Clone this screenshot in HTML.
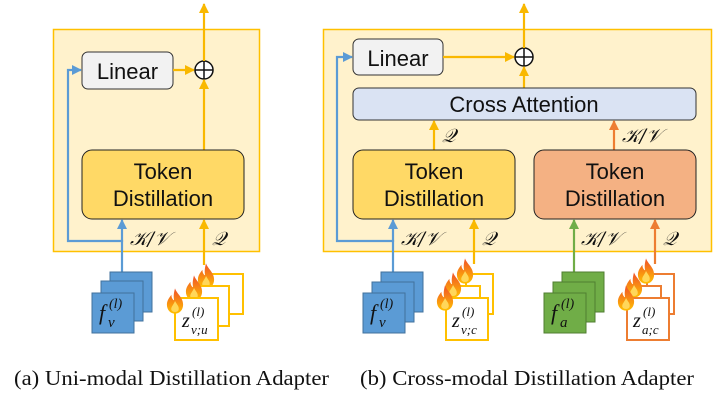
<!DOCTYPE html>
<html><head><meta charset="utf-8"><style>
body{margin:0;background:#fff;}
svg{display:block}
.s{font-family:"Liberation Sans",sans-serif;fill:#111;}
.m{font-family:"DejaVu Serif","Liberation Serif",serif;font-style:italic;fill:#111;}
.v{font-family:"Liberation Serif",serif;font-style:italic;fill:#111;}
</style></head><body>
<svg width="722" height="420" viewBox="0 0 722 420" xmlns="http://www.w3.org/2000/svg">
<defs>
<marker id="ay" markerWidth="10" markerHeight="10" refX="9" refY="5" orient="auto" markerUnits="userSpaceOnUse"><path d="M0,0 L10,5 L0,10 Z" fill="#f9b800"/></marker>
<marker id="ab" markerWidth="10" markerHeight="10" refX="9" refY="5" orient="auto" markerUnits="userSpaceOnUse"><path d="M0,0 L10,5 L0,10 Z" fill="#5b9bd5"/></marker>
<marker id="ao" markerWidth="10" markerHeight="10" refX="9" refY="5" orient="auto" markerUnits="userSpaceOnUse"><path d="M0,0 L10,5 L0,10 Z" fill="#ed7d31"/></marker>
<marker id="ag" markerWidth="10" markerHeight="10" refX="9" refY="5" orient="auto" markerUnits="userSpaceOnUse"><path d="M0,0 L10,5 L0,10 Z" fill="#70ad47"/></marker>
<linearGradient id="fl" x1="0" y1="0" x2="0" y2="1"><stop offset="0" stop-color="#f0502a"/><stop offset="1" stop-color="#ffc000"/></linearGradient>
<symbol id="flame" viewBox="0 0 20 28"><path d="M10,0 C12,6 19,10 19,18 C19,24 15,28 10,28 C5,28 1,24 1,18 C1,13 4,10 6,7 C6,11 8,13 9,13 C8,8 9,4 10,0 Z" fill="url(#fl)"/><path d="M10,14 C12,18 15,20 14,24 C13,27 7,27 6,24 C5,21 8,19 10,14Z" fill="#ffd75a"/></symbol>
</defs>

<!-- LEFT PANEL -->
<rect x="53.5" y="29.5" width="206" height="222" fill="#fff2cc" stroke="#ffc000" stroke-width="1.5"/>
<rect x="82" y="52" width="91" height="37" rx="6" fill="#f2f2f2" stroke="#333" stroke-width="1"/>
<text x="127.5" y="79" class="s" font-size="22" text-anchor="middle">Linear</text>
<line x1="173" y1="70" x2="194" y2="70" stroke="#f9b800" stroke-width="2.2" marker-end="url(#ay)"/>
<circle cx="204" cy="70" r="9" fill="#fff" stroke="#111" stroke-width="1.5"/>
<line x1="195" y1="70" x2="213" y2="70" stroke="#111" stroke-width="1.5"/><line x1="204" y1="61" x2="204" y2="79" stroke="#111" stroke-width="1.5"/>
<line x1="204" y1="61" x2="204" y2="4" stroke="#f9b800" stroke-width="2.2" marker-end="url(#ay)"/>
<line x1="204" y1="150" x2="204" y2="80" stroke="#f9b800" stroke-width="2.2" marker-end="url(#ay)"/>
<rect x="82" y="150" width="162" height="69" rx="10" fill="#ffd966" stroke="#222" stroke-width="1"/>
<text x="163" y="179" class="s" font-size="22" text-anchor="middle">Token</text>
<text x="163" y="206" class="s" font-size="22" text-anchor="middle">Distillation</text>
<polyline points="122,272 122,241 68,241 68,70 81,70" fill="none" stroke="#5b9bd5" stroke-width="2.2" marker-end="url(#ab)"/>
<line x1="122" y1="242" x2="122" y2="220" stroke="#5b9bd5" stroke-width="2.2" marker-end="url(#ab)"/>
<line x1="204" y1="265" x2="204" y2="220" stroke="#f9b800" stroke-width="2.2" marker-end="url(#ay)"/>
<text x="130" y="245" class="m" font-size="19">𝒦/𝒱</text>
<text x="212" y="245" class="m" font-size="19">𝒬</text>
<!-- blue stack -->
<rect x="110" y="272" width="42" height="40" fill="#5b9bd5" stroke="#41719c"/>
<rect x="101" y="281" width="42" height="40" fill="#5b9bd5" stroke="#41719c"/>
<rect x="92" y="293" width="42" height="40" fill="#5b9bd5" stroke="#41719c"/>
<text x="99" y="320" class="v" font-size="22">f</text>
<text x="109" y="308" class="v" font-size="14">(l)</text>
<text x="108" y="327" class="v" font-size="15">v</text>
<!-- z stack -->
<rect x="210" y="274" width="33" height="40" fill="#fff" stroke="#ffc000" stroke-width="2"/>
<use href="#flame" x="197" y="263" width="18" height="26"/>
<rect x="198" y="286" width="31" height="40" fill="#fff" stroke="#ffc000" stroke-width="2"/>
<use href="#flame" x="185" y="275" width="18" height="26"/>
<rect x="175" y="298" width="43" height="42" fill="#fff" stroke="#ffc000" stroke-width="2"/>
<use href="#flame" x="166" y="288" width="18" height="26"/>
<text x="182" y="327" class="v" font-size="20">z</text>
<text x="192" y="316" class="v" font-size="13">(l)</text>
<text x="191" y="334" class="v" font-size="13">v;u</text>

<!-- RIGHT PANEL -->
<rect x="323.5" y="29.5" width="388" height="222" fill="#fff2cc" stroke="#ffc000" stroke-width="1.5"/>
<rect x="353" y="39" width="90" height="36" rx="6" fill="#f2f2f2" stroke="#333"/>
<text x="398" y="66" class="s" font-size="22" text-anchor="middle">Linear</text>
<line x1="443" y1="57" x2="514" y2="57" stroke="#f9b800" stroke-width="2.2" marker-end="url(#ay)"/>
<circle cx="524" cy="57" r="9" fill="#fff" stroke="#111" stroke-width="1.5"/>
<line x1="515" y1="57" x2="533" y2="57" stroke="#111" stroke-width="1.5"/><line x1="524" y1="48" x2="524" y2="66" stroke="#111" stroke-width="1.5"/>
<line x1="524" y1="48" x2="524" y2="4" stroke="#f9b800" stroke-width="2.2" marker-end="url(#ay)"/>
<line x1="524" y1="88" x2="524" y2="67" stroke="#f9b800" stroke-width="2.2" marker-end="url(#ay)"/>
<rect x="353" y="88" width="343" height="32" rx="6" fill="#dae3f3" stroke="#333"/>
<text x="524" y="112" class="s" font-size="22" text-anchor="middle">Cross Attention</text>
<line x1="434" y1="150" x2="434" y2="121" stroke="#f9b800" stroke-width="2.2" marker-end="url(#ay)"/>
<text x="442" y="142" class="m" font-size="19">𝒬</text>
<line x1="614" y1="150" x2="614" y2="121" stroke="#ed7d31" stroke-width="2.2" marker-end="url(#ao)"/>
<text x="622" y="142" class="m" font-size="19">𝒦/𝒱</text>
<rect x="353" y="150" width="162" height="69" rx="10" fill="#ffd966" stroke="#222"/>
<text x="434" y="179" class="s" font-size="22" text-anchor="middle">Token</text>
<text x="434" y="206" class="s" font-size="22" text-anchor="middle">Distillation</text>
<rect x="534" y="150" width="162" height="69" rx="10" fill="#f4b183" stroke="#222"/>
<text x="615" y="179" class="s" font-size="22" text-anchor="middle">Token</text>
<text x="615" y="206" class="s" font-size="22" text-anchor="middle">Distillation</text>
<polyline points="393,272 393,241 337,241 337,57 352,57" fill="none" stroke="#5b9bd5" stroke-width="2.2" marker-end="url(#ab)"/>
<line x1="393" y1="242" x2="393" y2="220" stroke="#5b9bd5" stroke-width="2.2" marker-end="url(#ab)"/>
<text x="401" y="245" class="m" font-size="19">𝒦/𝒱</text>
<line x1="474" y1="264" x2="474" y2="220" stroke="#f9b800" stroke-width="2.2" marker-end="url(#ay)"/>
<text x="482" y="245" class="m" font-size="19">𝒬</text>
<line x1="574" y1="272" x2="574" y2="220" stroke="#70ad47" stroke-width="2.2" marker-end="url(#ag)"/>
<text x="581" y="245" class="m" font-size="19">𝒦/𝒱</text>
<line x1="655" y1="264" x2="655" y2="220" stroke="#ed7d31" stroke-width="2.2" marker-end="url(#ao)"/>
<text x="663" y="245" class="m" font-size="19">𝒬</text>
<!-- blue stack -->
<rect x="381" y="272" width="42" height="40" fill="#5b9bd5" stroke="#41719c"/>
<rect x="372" y="282" width="42" height="40" fill="#5b9bd5" stroke="#41719c"/>
<rect x="363" y="293" width="42" height="40" fill="#5b9bd5" stroke="#41719c"/>
<text x="370" y="320" class="v" font-size="22">f</text>
<text x="380" y="308" class="v" font-size="14">(l)</text>
<text x="379" y="327" class="v" font-size="15">v</text>
<!-- z v;c -->
<rect x="466" y="274" width="27" height="40" fill="#fff" stroke="#ffc000" stroke-width="2"/>
<use href="#flame" x="456" y="258" width="18" height="26"/>
<rect x="453" y="286" width="27" height="40" fill="#fff" stroke="#ffc000" stroke-width="2"/>
<use href="#flame" x="444" y="272" width="18" height="26"/>
<rect x="446" y="298" width="42" height="42" fill="#fff" stroke="#ffc000" stroke-width="2"/>
<use href="#flame" x="436" y="285" width="18" height="26"/>
<text x="452" y="327" class="v" font-size="20">z</text>
<text x="462" y="316" class="v" font-size="13">(l)</text>
<text x="461" y="334" class="v" font-size="13">v;c</text>
<!-- green stack -->
<rect x="562" y="272" width="42" height="40" fill="#70ad47" stroke="#507e32"/>
<rect x="553" y="282" width="42" height="40" fill="#70ad47" stroke="#507e32"/>
<rect x="544" y="293" width="42" height="40" fill="#70ad47" stroke="#507e32"/>
<text x="551" y="320" class="v" font-size="22">f</text>
<text x="561" y="308" class="v" font-size="14">(l)</text>
<text x="560" y="327" class="v" font-size="15">a</text>
<!-- z a;c -->
<rect x="647" y="274" width="27" height="40" fill="#fff" stroke="#ed7d31" stroke-width="2"/>
<use href="#flame" x="637" y="258" width="18" height="26"/>
<rect x="634" y="286" width="27" height="40" fill="#fff" stroke="#ed7d31" stroke-width="2"/>
<use href="#flame" x="625" y="272" width="18" height="26"/>
<rect x="627" y="298" width="42" height="42" fill="#fff" stroke="#ed7d31" stroke-width="2"/>
<use href="#flame" x="617" y="285" width="18" height="26"/>
<text x="633" y="327" class="v" font-size="20">z</text>
<text x="643" y="316" class="v" font-size="13">(l)</text>
<text x="642" y="334" class="v" font-size="13">a;c</text>

<text x="14" y="385" font-family="Liberation Serif,serif" font-size="21" fill="#111" textLength="315" lengthAdjust="spacingAndGlyphs">(a) Uni-modal Distillation Adapter</text>
<text x="360" y="385" font-family="Liberation Serif,serif" font-size="21" fill="#111" textLength="334" lengthAdjust="spacingAndGlyphs">(b) Cross-modal Distillation Adapter</text>
</svg>
</body></html>
